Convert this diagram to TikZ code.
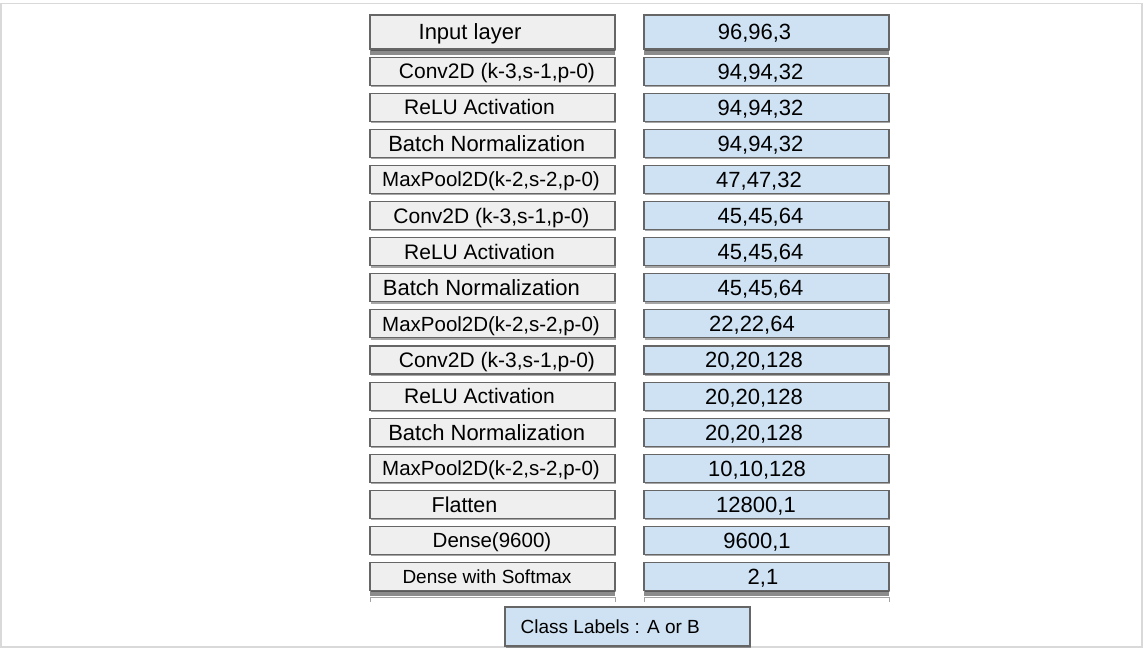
\documentclass[tikz,border=0pt]{standalone}
\usepackage{fontspec}
\setmainfont{Liberation Sans}
\usetikzlibrary{shadows,positioning}
\definecolor{layergray}{HTML}{EFEFEF}
\definecolor{shapeblue}{HTML}{CFE2F3}
\definecolor{edgegray}{HTML}{666666}
\definecolor{stackgray}{HTML}{8C8C8C}
\definecolor{framegray}{HTML}{D9D9D9}
\tikzset{
    layerbox/.style={draw=edgegray, line width=1.1pt, fill=layergray,
        minimum width=245pt, minimum height=28pt, inner sep=0pt,
        drop shadow={shadow xshift=0.8pt, shadow yshift=-1.8pt, opacity=.35, fill=black}},
    sizebox/.style={layerbox, fill=shapeblue},
    boxtext/.style={anchor=base, inner sep=0pt, font=\fontsize{#1}{#1}\selectfont},
    boxtext/.default=22
}

\begin{document}
\begin{tikzpicture}[x=1pt,y=-1pt]
    \useasboundingbox (0,0) rectangle (1144,649);

    % outer frame
    \draw[framegray, line width=1.5pt] (1,3.5) rectangle (1142,647);

    % stacked boxes peeking out below input layer and last row
    \fill[stackgray] (370,49) rectangle (615,54.5);
    \fill[stackgray] (644,49) rectangle (889,54.5);
    \fill[stackgray] (370,590) rectangle (615,596);
    \fill[stackgray] (644,590) rectangle (889,596);
    \begin{scope}
        \clip (360,594) rectangle (900,601);
        \draw[edgegray!60, line width=1pt, fill=white] (370,597) rectangle (615,624);
        \draw[edgegray!60, line width=1pt, fill=white] (644,597) rectangle (889,624);
    \end{scope}

    % input layer row
    \node[layerbox, minimum height=34pt] (layer1) at (492.5,32) {};
    \node[sizebox, minimum height=34pt] (size1) at (766.5,32) {};
    \node[boxtext] (layertext1) at (470,39.9) {Input layer};
    \node[boxtext] (sizetext1) at (754.5,39.9) {96,96,3};

    % remaining rows: number/y/text x/font size/text/value x/value
    \foreach \i/\y/\tx/\fs/\txt/\vx/\val in {
        2/71.2/497/21/{Conv2D (k-3,s-1,p-0)}/760.5/{94,94,32},
        3/107.3/479.5/21/{ReLU Activation}/760.5/{94,94,32},
        4/143.4/486.7/22/{Batch Normalization}/760.5/{94,94,32},
        5/179.5/491/20.5/{MaxPool2D(k-2,s-2,p-0)}/759/{47,47,32},
        6/215.6/491.5/21/{Conv2D (k-3,s-1,p-0)}/760.5/{45,45,64},
        7/251.7/479.5/21/{ReLU Activation}/760.5/{45,45,64},
        8/287.8/481.4/22/{Batch Normalization}/760.5/{45,45,64},
        9/323.9/491/20.5/{MaxPool2D(k-2,s-2,p-0)}/752/{22,22,64},
        10/360/497/21/{Conv2D (k-3,s-1,p-0)}/754/{20,20,128},
        11/396.1/479.5/21/{ReLU Activation}/754/{20,20,128},
        12/432.2/486.7/22/{Batch Normalization}/754/{20,20,128},
        13/468.3/491/20.5/{MaxPool2D(k-2,s-2,p-0)}/757/{10,10,128},
        14/504.4/464.5/21.5/{Flatten}/756/{12800,1},
        15/540.5/492/20.5/{Dense(9600)}/757/{9600,1},
        16/576.6/487/19/{Dense with Softmax}/763/{2,1}}
    {
        \node[layerbox] (layer\i) at (492.5,\y) {};
        \node[sizebox] (size\i) at (766.5,\y) {};
        \node[boxtext=\fs] (layertext\i) at (\tx,\y+0.36*\fs) {\txt};
        \node[boxtext] (sizetext\i) at (\vx,\y+7.9) {\val};
    }

    % class labels
    \node[sizebox, minimum height=39pt] (classes) at (627.5,626.5) {};
    \node[boxtext=19] (classtext) at (610.3,633.2) {Class Labels : A or B};
\end{tikzpicture}
\end{document}
